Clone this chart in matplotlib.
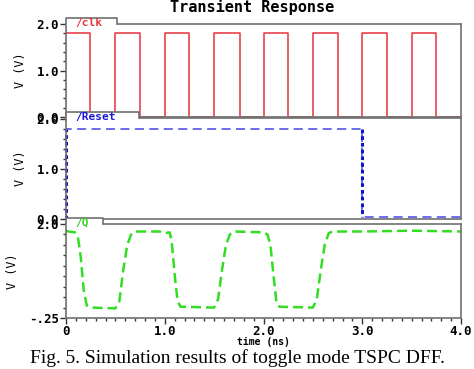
import matplotlib
matplotlib.use("Agg")
import matplotlib.pyplot as plt
from matplotlib.ticker import MultipleLocator, FixedLocator
from matplotlib.patches import Rectangle

# clk: switching times (ns) and levels (V), drawn as steps
clk_t = [0, 0.24, 0.5, 0.75, 1.0, 1.25, 1.5, 1.76, 2.0, 2.25, 2.5, 2.75, 3.0, 3.25, 3.5, 3.75, 4.0]
clk_v = [1.8, 0, 1.8, 0, 1.8, 0, 1.8, 0, 1.8, 0, 1.8, 0, 1.8, 0, 1.8, 0, 0]

# Reset
reset_t = [0, 0, 3.0, 3.0, 4.0]
reset_v = [0, 1.8, 1.8, 0.04, 0.04]

# Q output
q_t = [0, 0.09, 0.12, 0.15, 0.18, 0.21, 0.25, 0.5, 0.54, 0.58, 0.62, 0.66, 0.70, 0.95, 1.0,
       1.05, 1.07, 1.10, 1.13, 1.16, 1.5, 1.54, 1.58, 1.62, 1.66, 1.70, 2.0, 2.04, 2.07, 2.10,
       2.13, 2.16, 2.5, 2.54, 2.58, 2.62, 2.66, 2.70, 3.0, 3.5, 4.0]
q_v = [1.83, 1.8, 1.7, 1.2, 0.4, 0.05, 0.0, -0.02, 0.15, 0.9, 1.5, 1.75, 1.82, 1.82, 1.78,
       1.8, 1.6, 0.8, 0.15, 0.02, 0.0, 0.2, 0.9, 1.5, 1.75, 1.82, 1.8, 1.75, 1.5, 0.8,
       0.15, 0.02, 0.0, 0.2, 0.9, 1.5, 1.78, 1.82, 1.82, 1.84, 1.82]

mono = "DejaVu Sans Mono"
spine_c = "#707070"

fig = plt.figure(figsize=(4.74, 3.69), dpi=100)
W, H = 474, 369
def box(top, bottom):
    return [66 / W, 1 - bottom / H, (461 - 66) / W, (bottom - top) / H]

ax1 = fig.add_axes(box(24, 117))
ax2 = fig.add_axes(box(118, 219))
ax3 = fig.add_axes(box(224, 318))

ax1.plot(clk_t, clk_v, drawstyle="steps-post", color="#e8333a", lw=1.1)
ax1.set_ylim(0, 2.0)
ax1.yaxis.set_major_locator(FixedLocator([0, 1.0, 2.0]))
ax1.set_yticklabels(["0.0", "1.0", "2.0"])

ax2.plot(reset_t, reset_v, color="#6060e8", lw=1.3, dashes=(5, 3))
for i in range(len(reset_t) - 1):
    if reset_t[i] == reset_t[i + 1]:
        ax2.plot(reset_t[i:i + 2], reset_v[i:i + 2], color="#1010d0", lw=2.2,
                 dashes=(1.2, 1), clip_on=False)
ax2.set_ylim(0, 2.02)
ax2.yaxis.set_major_locator(FixedLocator([0, 1.0, 2.0]))
ax2.set_yticklabels(["0.0", "1.0", "2.0"])

ax3.plot(q_t, q_v, color="#33dd22", lw=1.8, dashes=(4, 2))
ax3.set_ylim(-0.25, 2.0)
ax3.yaxis.set_major_locator(FixedLocator([-0.25, 2.0]))
ax3.set_yticklabels(["-.25", "2.0"])
ax3.xaxis.set_major_locator(FixedLocator([0, 1, 2, 3, 4]))
ax3.set_xticklabels(["0", "1.0", "2.0", "3.0", "4.0"])
ax3.xaxis.set_minor_locator(MultipleLocator(0.1))

names = [("/clk", "#e8333a", 51), ("/Reset", "#1a1ad8", 73), ("/Q", "#33cc22", 37)]
for ax, (name, col, wpx) in zip([ax1, ax2, ax3], names):
    ax.set_xlim(0, 4.0)
    ax.yaxis.set_minor_locator(MultipleLocator(0.2 if ax is not ax3 else 0.25))
    for s in ax.spines.values():
        s.set_color(spine_c)
        s.set_linewidth(1.2)
    ax.tick_params(axis="both", which="major", direction="out", length=4, width=1,
                   color="#333333", labelsize=9, pad=1)
    ax.tick_params(axis="both", which="minor", direction="out", length=2, width=1,
                   color="#333333")
    for lab in ax.get_yticklabels() + ax.get_xticklabels():
        lab.set_family(mono)
        lab.set_fontweight("bold")
    if ax is not ax3:
        ax.tick_params(axis="x", which="both", bottom=False, labelbottom=False)
    ax.set_ylabel("V (V)", family=mono, fontsize=8.5, labelpad=7)
    # label tab on top-left
    h = 6 / (ax.get_position().height * H)
    w = wpx / 395
    ax.add_patch(Rectangle((0, 1 - h * 0.2), w, h * 1.2, transform=ax.transAxes,
                           facecolor="white", edgecolor="none", clip_on=False, zorder=5))
    ax.plot([0, 0, w, w], [1, 1 + h, 1 + h, 1], transform=ax.transAxes, color=spine_c,
            lw=1.2, clip_on=False, zorder=6)
    ax.text(0.025, 1 + h * 0.15, name, transform=ax.transAxes, color=col, fontsize=8,
            fontweight="bold", family=mono, va="center", ha="left", zorder=7)

fig.text(263 / W, 1 - 341.5 / H, "time (ns)", family=mono, fontweight="bold",
         fontsize=7, ha="center", va="center")
fig.text(252 / W, 1 - 7 / H, "Transient Response", family=mono, fontweight="bold",
         fontsize=11, ha="center", va="center")
fig.text(237 / W, 1 - 358 / H, "Fig. 5. Simulation results of toggle mode TSPC DFF.",
         family="Liberation Serif", fontsize=14, ha="center", va="center")

fig.savefig("out.png", dpi=100)
